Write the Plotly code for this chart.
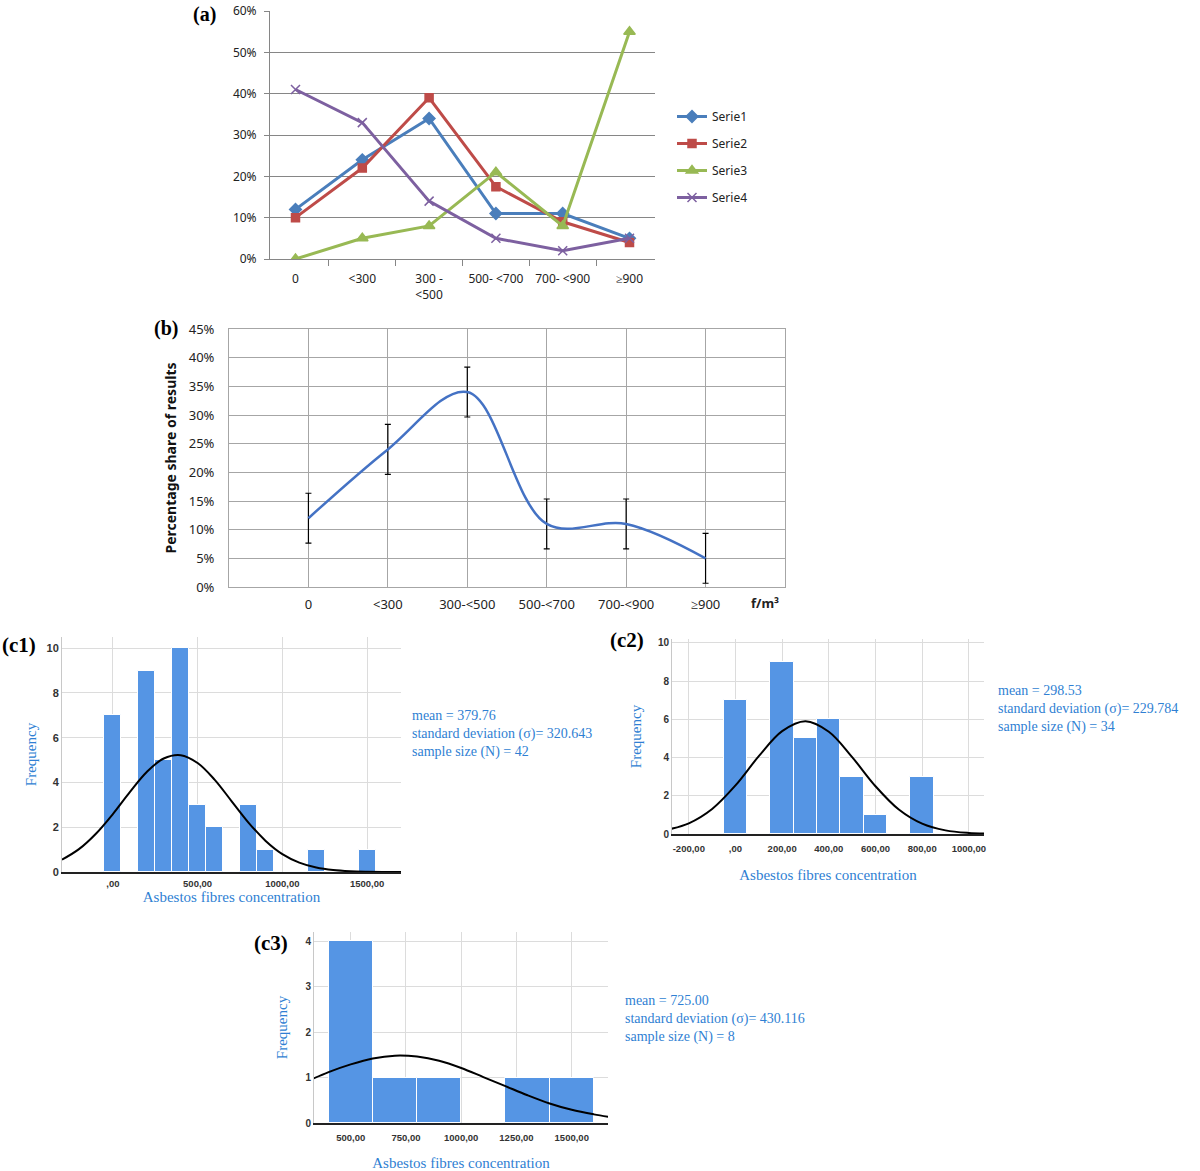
import plotly.graph_objects as go

W, H = 1200, 1171

# panel (a) data
cats_a = ["0", "<300", "300 -<br><500", "500- <700", "700- <900", "≥900"]
serie1 = [0.12, 0.24, 0.34, 0.11, 0.11, 0.05]
serie2 = [0.10, 0.22, 0.39, 0.175, 0.09, 0.04]
serie3 = [0.0, 0.05, 0.08, 0.21, 0.08, 0.55]
serie4 = [0.41, 0.33, 0.14, 0.05, 0.02, 0.05]

# panel (b) data
cats_b = ["0", "<300", "300-<500", "500-<700", "700-<900", "≥900"]
share_b = [0.12, 0.24, 0.34, 0.11, 0.11, 0.05]
err_b = [0.0435, 0.0435, 0.0435, 0.0435, 0.0435, 0.0435]

# c1 histogram
c1_bins = [0, 200, 300, 400, 500, 600, 800, 900, 1200, 1500]
c1_freq = [7, 9, 5, 10, 3, 2, 3, 1, 1, 1]
c1_curve_x = [-300, -200, -100, 0, 100, 200, 300, 400, 500, 600, 700, 800, 900, 1000,
              1100, 1200, 1300, 1400, 1500, 1600, 1700]
c1_curve_y = [0.55, 1.02, 1.71, 2.59, 3.57, 4.47, 5.07, 5.22, 4.87, 4.13, 3.17, 2.21, 1.40,
              0.80, 0.42, 0.20, 0.085, 0.033, 0.012, 0.004, 0.001]

# c2 histogram
c2_bins = [0, 200, 300, 400, 500, 600, 800]
c2_freq = [7, 9, 5, 6, 3, 1, 3]
c2_curve_x = [-300, -200, -100, 0, 100, 200, 300, 400, 500, 600, 700, 800, 900, 1000, 1100]
c2_curve_y = [0.20, 0.56, 1.31, 2.54, 4.07, 5.38, 5.90, 5.35, 4.02, 2.50, 1.28, 0.54, 0.19,
              0.056, 0.013]

# c3 histogram
c3_bins = [500, 700, 900, 1300, 1500]
c3_freq = [4, 1, 1, 1, 1]
c3_curve_x = [300, 400, 500, 600, 700, 800, 900, 1000, 1100, 1200, 1300, 1400, 1500, 1600, 1700]
c3_curve_y = [0.91, 1.12, 1.29, 1.42, 1.48, 1.46, 1.37, 1.21, 1.01, 0.81, 0.61, 0.43, 0.29,
              0.19, 0.11]

stats_c1 = ["mean = 379.76", "standard deviation (σ)= 320.643", "sample size (N) = 42"]
stats_c2 = ["mean = 298.53", "standard deviation (σ)= 229.784", "sample size (N) = 34"]
stats_c3 = ["mean = 725.00", "standard deviation (σ)= 430.116", "sample size (N) = 8"]


def px_x(p):
    return p / W


def px_y(p):
    return 1 - p / H


BAR_BLUE = "#5595e4"
TXT_BLUE = "#2f7fd3"
SERIF = "Liberation Serif"

fig = go.Figure()

# ---- (a)
series = [
    ("Serie1", serie1, "#4a7ebb", "diamond", 9),
    ("Serie2", serie2, "#be4b48", "square", 8),
    ("Serie3", serie3, "#98b954", "triangle-up", 10),
    ("Serie4", serie4, "#7d60a0", "x-thin-open", 9),
]
for name, vals, col, sym, sz in series:
    fig.add_trace(go.Scatter(
        x=cats_a, y=vals, name=name, mode="lines+markers",
        line=dict(color=col, width=3),
        marker=dict(symbol=sym, size=sz, color=col, line=dict(color=col, width=1.5)),
        legendgroup=name, xaxis="x", yaxis="y"))

# ---- (b)
fig.add_trace(go.Scatter(
    x=[1, 2, 3, 4, 5, 6], y=share_b, mode="lines", showlegend=False,
    line=dict(color="#4472c4", width=2.5, shape="spline", smoothing=1.0),
    error_y=dict(type="data", array=err_b, color="black", thickness=1.2, width=3),
    xaxis="x2", yaxis="y2"))

# ---- histograms
hists = [
    (c1_bins, c1_freq, 100, c1_curve_x, c1_curve_y, "x3", "y3"),
    (c2_bins, c2_freq, 100, c2_curve_x, c2_curve_y, "x4", "y4"),
    (c3_bins, c3_freq, 200, c3_curve_x, c3_curve_y, "x5", "y5"),
]
for bins, freq, bw, cx, cy, xa, ya in hists:
    fig.add_trace(go.Bar(
        x=bins, y=freq, width=bw, showlegend=False,
        marker=dict(color=BAR_BLUE, line=dict(color="white", width=1)),
        xaxis=xa, yaxis=ya))
    fig.add_trace(go.Scatter(
        x=cx, y=cy, mode="lines", showlegend=False,
        line=dict(color="black", width=2, shape="spline"),
        xaxis=xa, yaxis=ya))

tick_a = dict(family="Noto Sans", size=12, color="#222")
xtick_h = dict(family="Liberation Sans", size=9.5, color="#333", weight="bold")
ytick_c1 = dict(family="Liberation Sans", size=11, color="#333", weight="bold")
ytick_h = dict(family="Liberation Sans", size=10, color="#333", weight="bold")
hist_title = dict(family=SERIF, size=15, color=TXT_BLUE)

fig.update_layout(
    width=W, height=H, margin=dict(l=0, r=0, t=0, b=0, autoexpand=False),
    paper_bgcolor="white", plot_bgcolor="white",
    bargap=0,
    legend=dict(x=px_x(672), y=px_y(102), xanchor="left", yanchor="top",
                font=dict(family="Noto Sans", size=12, color="#222"),
                tracegroupgap=8, itemwidth=30),
    # (a)
    xaxis=dict(domain=[px_x(270), px_x(655)], type="category", tickson="boundaries",
               ticks="outside", ticklen=6, tickcolor="#868686", showgrid=False,
               showline=True, linecolor="#868686", tickfont=tick_a, anchor="y",
               ticklabelstandoff=9, automargin=False),
    yaxis=dict(domain=[px_y(259), px_y(11)], range=[0, 0.6], dtick=0.1, tickformat=".0%",
               showgrid=True, gridcolor="#868686", gridwidth=1, showline=True,
               linecolor="#868686", ticks="outside", ticklen=5, tickcolor="#868686",
               tickfont=tick_a, zeroline=False, anchor="x", ticklabelstandoff=5,
               automargin=False),
    # (b)
    xaxis2=dict(domain=[px_x(229), px_x(785)], range=[0, 7], tickvals=[1, 2, 3, 4, 5, 6],
                ticktext=cats_b, showgrid=True, gridcolor="#a6a6a6", showline=True,
                mirror=True, linecolor="#a6a6a6", zeroline=False, ticklabelstandoff=5,
                tickfont=dict(family="Noto Sans", size=13, color="#222"), anchor="y2",
                automargin=False),
    yaxis2=dict(domain=[px_y(587), px_y(329)], range=[0, 0.45], dtick=0.05, tickformat=".0%",
                showgrid=True, gridcolor="#a6a6a6", showline=True, mirror=True,
                linecolor="#a6a6a6", zeroline=False, ticklabelstandoff=11,
                tickfont=dict(family="Noto Sans", size=13, color="#222"),
                title=dict(text="<b>Percentage share of results</b>", standoff=8,
                           font=dict(family="Noto Sans", size=14, color="#111")),
                anchor="x2", automargin=False),
    # (c1)
    xaxis3=dict(domain=[px_x(62), px_x(401)], range=[-300, 1700],
                tickvals=[0, 500, 1000, 1500], ticktext=[",00", "500,00", "1000,00", "1500,00"],
                showgrid=True, gridcolor="#dcdcdc", showline=True, linecolor="#222", linewidth=2,
                zeroline=False, tickfont=xtick_h, ticklabelstandoff=2,
                title=dict(text="Asbestos fibres concentration", font=hist_title, standoff=3),
                anchor="y3", automargin=False),
    yaxis3=dict(domain=[px_y(872), px_y(637)], range=[0, 10.5], tickvals=[0, 2, 4, 6, 8, 10],
                showgrid=True, gridcolor="#dcdcdc", showline=True, linecolor="#c8c8c8",
                zeroline=False, tickfont=ytick_c1,
                title=dict(text="Frequency", font=hist_title, standoff=6), anchor="x3",
                automargin=False),
    # (c2)
    xaxis4=dict(domain=[px_x(672), px_x(984)], range=[-272, 1065],
                tickvals=[-200, 0, 200, 400, 600, 800, 1000],
                ticktext=["-200,00", ",00", "200,00", "400,00", "600,00", "800,00", "1000,00"],
                showgrid=True, gridcolor="#dcdcdc", showline=True, linecolor="#222", linewidth=2,
                zeroline=False, tickfont=xtick_h, ticklabelstandoff=5,
                title=dict(text="Asbestos fibres concentration", font=hist_title, standoff=16),
                anchor="y4", automargin=False),
    yaxis4=dict(domain=[px_y(834), px_y(639)], range=[0, 10.2], tickvals=[0, 2, 4, 6, 8, 10],
                showgrid=True, gridcolor="#dcdcdc", showline=True, linecolor="#c8c8c8",
                zeroline=False, tickfont=ytick_h,
                title=dict(text="Frequency", font=hist_title, standoff=12), anchor="x4",
                automargin=False),
    # (c3)
    xaxis5=dict(domain=[px_x(314), px_x(608)], range=[334, 1664],
                tickvals=[500, 750, 1000, 1250, 1500],
                ticktext=["500,00", "750,00", "1000,00", "1250,00", "1500,00"],
                showgrid=True, gridcolor="#dcdcdc", showline=True, linecolor="#222", linewidth=2,
                zeroline=False, tickfont=xtick_h, ticklabelstandoff=5,
                title=dict(text="Asbestos fibres concentration", font=hist_title, standoff=16),
                anchor="y5", automargin=False),
    yaxis5=dict(domain=[px_y(1123), px_y(932)], range=[0, 4.2], tickvals=[0, 1, 2, 3, 4],
                showgrid=True, gridcolor="#dcdcdc", showline=True, linecolor="#c8c8c8",
                zeroline=False, tickfont=ytick_h,
                title=dict(text="Frequency", font=hist_title, standoff=14), anchor="x5",
                automargin=False),
)

labels = [("(a)", 204, 14, 20), ("(b)", 166, 328, 20), ("(c1)", 19, 645, 21),
          ("(c2)", 627, 640, 21), ("(c3)", 271, 943, 21)]
for txt, lx, ly, sz in labels:
    fig.add_annotation(text=f"<b>{txt}</b>", x=px_x(lx), y=px_y(ly), xref="paper", yref="paper",
                       xanchor="center", yanchor="middle", showarrow=False,
                       font=dict(family=SERIF, size=sz, color="black"))

fig.add_annotation(text="<b>f/m³</b>", x=px_x(765), y=px_y(603), xref="paper", yref="paper",
                   xanchor="center", showarrow=False,
                   font=dict(family="Noto Sans", size=13, color="#222"))

for lines, sx, sy in [(stats_c1, 410, 706), (stats_c2, 996, 681), (stats_c3, 623, 991)]:
    fig.add_annotation(text="<br>".join(lines), x=px_x(sx), y=px_y(sy), xref="paper",
                       yref="paper", xanchor="left", yanchor="top", align="left",
                       showarrow=False, font=dict(family=SERIF, size=14, color=TXT_BLUE))

fig.write_html("out.html", config={"displayModeBar": False},
               post_script="document.body.style.margin='0';")
